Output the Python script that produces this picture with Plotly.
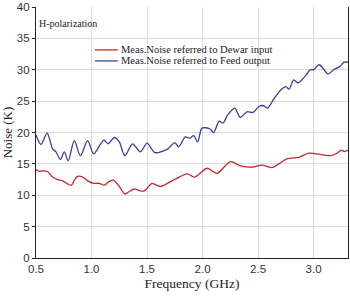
import plotly.graph_objects as go

freq_feed = [0.50, 0.545, 0.60, 0.65, 0.68, 0.72, 0.755, 0.79, 0.845, 0.90, 0.965, 1.02, 1.11, 1.15,
             1.205, 1.25, 1.30, 1.37, 1.44, 1.50, 1.57, 1.68, 1.75, 1.785, 1.845, 1.885, 1.92, 1.956,
             1.995, 2.065, 2.10, 2.15, 2.185, 2.226, 2.29, 2.34, 2.40, 2.455, 2.505, 2.545, 2.585,
             2.64, 2.70, 2.75, 2.78, 2.82, 2.86, 2.93, 2.97, 3.00, 3.05, 3.09, 3.13, 3.18, 3.235,
             3.275, 3.31]
noise_feed = [19.6, 18.1, 19.9, 17.4, 16.9, 15.7, 16.9, 15.5, 18.7, 16.3, 18.7, 16.6, 18.8, 18.2,
              19.2, 18.5, 16.3, 18.2, 16.9, 18.3, 16.8, 17.3, 18.4, 17.7, 19.3, 19.1, 19.5, 18.5,
              20.7, 20.6, 20.0, 21.8, 21.5, 22.8, 23.9, 22.4, 23.3, 23.2, 24.1, 24.3, 23.9,
              25.3, 26.7, 27.3, 26.9, 28.4, 27.9, 29.1, 30.0, 30.0, 30.8, 30.1, 29.3, 30.0, 30.5,
              31.2, 31.2]

freq_dewar = [0.50, 0.53, 0.56, 0.605, 0.65, 0.695, 0.74, 0.785, 0.82, 0.845, 0.875, 0.92, 0.965,
              1.02, 1.07, 1.115, 1.16, 1.196, 1.25, 1.30, 1.34, 1.385, 1.44, 1.475, 1.53, 1.545,
              1.62, 1.725, 1.76, 1.86, 1.93, 2.04, 2.13, 2.25, 2.34, 2.45, 2.535, 2.626, 2.67,
              2.76, 2.866, 2.956, 3.03, 3.15, 3.21, 3.25, 3.28, 3.31]
noise_dewar = [14.1, 13.8, 13.9, 13.75, 12.9, 12.5, 12.3, 11.8, 11.6, 12.4, 13.0, 12.9, 12.3,
               11.9, 11.9, 11.6, 12.2, 12.4, 11.4, 10.2, 10.6, 11.0, 10.7, 10.7, 11.7, 11.9,
               11.4, 12.3, 12.6, 13.4, 12.9, 14.3, 13.5, 15.35, 14.7, 14.5, 14.8, 14.4, 14.8,
               15.8, 16.05, 16.7, 16.6, 16.3, 16.7, 17.2, 16.95, 17.2]

series_names = ["Meas.Noise referred to Dewar input", "Meas.Noise referred to Feed output"]
series_colors = ["#c1272d", "#3c3c96"]

x_ticks = [0.5, 1.0, 1.5, 2.0, 2.5, 3.0]
y_ticks = [0, 5, 10, 15, 20, 25, 30, 35, 40]

serif = "Liberation Serif, Times New Roman, serif"
sans = "Liberation Sans, Arial, sans-serif"

fig = go.Figure()
for xs, ys, name, color in [(freq_dewar, noise_dewar, series_names[0], series_colors[0]),
                            (freq_feed, noise_feed, series_names[1], series_colors[1])]:
    fig.add_trace(go.Scatter(x=xs, y=ys, mode="lines", name=name, showlegend=False,
                             line=dict(color=color, width=1.3, shape="spline", smoothing=0.8)))

# Compact legend (line sample + label) built from the series names/colours
legend_rows = [0.829, 0.785]
for name, color, yrow in zip(series_names, series_colors, legend_rows):
    fig.add_shape(type="line", xref="paper", yref="paper", x0=0.189, x1=0.262, y0=yrow, y1=yrow,
                  line=dict(color=color, width=1.3))
    fig.add_annotation(text=name, xref="paper", yref="paper", x=0.266, y=yrow,
                       xanchor="left", yanchor="middle", showarrow=False,
                       font=dict(family=serif, size=10.5, color="#222"))

fig.add_annotation(text="H-polarization", xref="paper", yref="paper", x=0.002, y=0.936,
                   xanchor="left", yanchor="middle", showarrow=False,
                   font=dict(family=serif, size=10, color="#222"))

fig.update_layout(
    width=350, height=298,
    margin=dict(l=36, r=2, t=7, b=40),
    paper_bgcolor="white", plot_bgcolor="white",
    showlegend=False,
    xaxis=dict(range=[0.5, 3.31], tickvals=x_ticks, ticktext=[f"{v:.1f}" for v in x_ticks],
               automargin=False,
               showgrid=True, gridcolor="#dcdcdc", gridwidth=1,
               showline=True, linecolor="#222", linewidth=1.3, mirror=False,
               ticks="", zeroline=False,
               tickfont=dict(family=sans, size=11.5, color="#333"),
               title=dict(text="Frequency (GHz)", font=dict(family=serif, size=13.5, color="#222"),
                          standoff=4)),
    yaxis=dict(range=[0, 40], tickvals=y_ticks, automargin=False,
               showgrid=True, gridcolor="#dcdcdc", gridwidth=1,
               showline=True, linecolor="#222", linewidth=1.3, mirror=True,
               ticks="outside", ticklen=3, tickcolor="#222", zeroline=False,
               tickfont=dict(family=sans, size=11.5, color="#333"),
               title=dict(text="Noise (K)", font=dict(family=serif, size=13, color="#222"),
                          standoff=4)),
)

fig.write_html("out.html", config={"displayModeBar": False},
               post_script="document.body.style.margin='0';")
